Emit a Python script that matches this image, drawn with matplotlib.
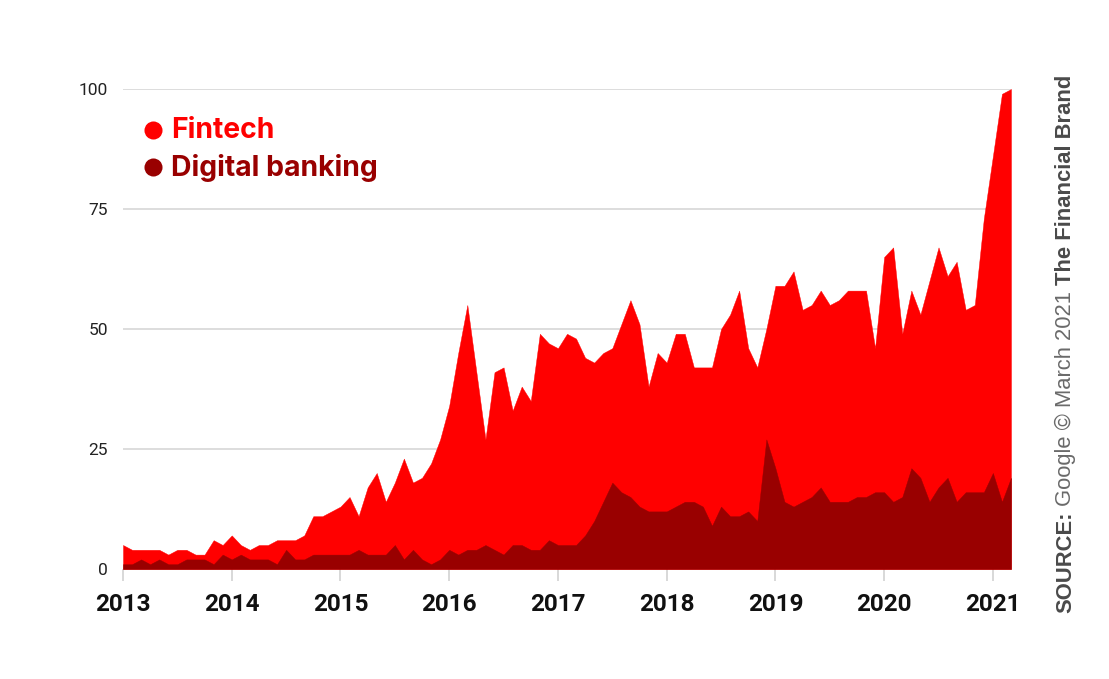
import matplotlib
matplotlib.use("Agg")
import matplotlib.pyplot as plt
from matplotlib.lines import Line2D
import numpy as np

# ---------------- data (Google Trends interest, monthly, Jan 2013 - Mar 2021) -------------
start_year = 2013
fintech = [
    5, 4, 4, 4, 4, 3, 4, 4, 3, 3, 6, 5,            # 2013
    7, 5, 4, 5, 5, 6, 6, 6, 7, 11, 11, 12,         # 2014
    13, 15, 11, 17, 20, 14, 18, 23, 18, 19, 22, 27, # 2015
    34, 45, 55, 41, 27, 41, 42, 33, 38, 35, 49, 47, # 2016
    46, 49, 48, 44, 43, 45, 46, 51, 56, 51, 38, 45, # 2017
    43, 49, 49, 42, 42, 42, 50, 53, 58, 46, 42, 50, # 2018
    59, 59, 62, 54, 55, 58, 55, 56, 58, 58, 58, 46, # 2019
    65, 67, 49, 58, 53, 60, 67, 61, 64, 54, 55, 73, # 2020
    86, 99, 100,                                    # 2021
]
digital_banking = [
    1, 1, 2, 1, 2, 1, 1, 2, 2, 2, 1, 3,             # 2013
    2, 3, 2, 2, 2, 1, 4, 2, 2, 3, 3, 3,             # 2014
    3, 3, 4, 3, 3, 3, 5, 2, 4, 2, 1, 2,             # 2015
    4, 3, 4, 4, 5, 4, 3, 5, 5, 4, 4, 6,             # 2016
    5, 5, 5, 7, 10, 14, 18, 16, 15, 13, 12, 12,     # 2017
    12, 13, 14, 14, 13, 9, 13, 11, 11, 12, 10, 27,  # 2018
    21, 14, 13, 14, 15, 17, 14, 14, 14, 15, 15, 16, # 2019
    16, 14, 15, 21, 19, 14, 17, 19, 14, 16, 16, 16, # 2020
    20, 14, 19,                                     # 2021
]
year_ticks = list(range(2013, 2022))
y_ticks = [0, 25, 50, 75, 100]
series_names = ["Fintech", "Digital banking"]
series_colors = ["#ff0000", "#990000"]

x = start_year + np.arange(len(fintech)) / 12.0

# ---------------- figure ---------------
W, H = 1109, 679
fig = plt.figure(figsize=(W / 100, H / 100), dpi=100)
fig.patch.set_facecolor("white")

def fx(px):
    return px / W

def fy(py):
    return 1 - py / H

ax_left, ax_right, ax_top, ax_bottom = 123, 1011, 89, 569
ax = fig.add_axes([fx(ax_left), fy(ax_bottom), (ax_right - ax_left) / W, (ax_bottom - ax_top) / H])

ax.fill_between(x, fintech, 0, color=series_colors[0], lw=0.3, edgecolor=series_colors[0], zorder=2)
ax.fill_between(x, digital_banking, 0, color=series_colors[1], lw=0.3, edgecolor=series_colors[1], zorder=3)

ax.set_xlim(x[0], x[-1])
ax.set_ylim(0, 100)
ax.set_axisbelow(True)
ax.set_yticks(y_ticks)
ax.set_yticklabels([str(v) for v in y_ticks], family="Roboto", fontsize=12.5, color="#222222")
ax.yaxis.grid(True, color="#dddddd", lw=1.4)
ax.tick_params(axis="y", length=0, pad=11)

ax.set_xticks(year_ticks)
ax.set_xticklabels([str(v) for v in year_ticks], family="Roboto", fontweight="bold",
                   fontsize=17.5, color="#111111")
ax.tick_params(axis="x", length=8.5, width=1.3, color="#d6d6d6", pad=8.5)
for s in ax.spines.values():
    s.set_visible(False)

renderer = fig.canvas.get_renderer()

# ---------------- legend ----------------
def fit_size(text, target_px, **kw):
    base = 20
    t = fig.text(0, 0, text, fontsize=base, **kw)
    w = t.get_window_extent(renderer).width
    t.remove()
    return base * target_px / w

leg_kw = dict(family="Inter", fontweight="bold")
leg_size = fit_size("Digital banking", 207, **leg_kw)
legend_rows = [(138, 130), (176, 167)]
for name, col, (base_y, cy) in zip(series_names, series_colors, legend_rows):
    fig.add_artist(Line2D([fx(152.5)], [fy(cy)], marker="o", markersize=13, color=col,
                          markeredgewidth=0, transform=fig.transFigure))
    fig.text(fx(171), fy(base_y), name, color=col, fontsize=leg_size, va="baseline", ha="left", **leg_kw)

# ---------------- vertical source note ----------------
parts = [("SOURCE:", "bold", "#4a4a4a"), ("Google © March 2021", "normal", "#6a6a6a"),
         ("The Financial Brand", "bold", "#4a4a4a")]

def place_source(size, draw=True):
    y = 613
    arts = []
    for txt, wt, col in parts:
        t = fig.text(fx(1071), fy(y), txt, rotation=90, rotation_mode="anchor", ha="left",
                     va="baseline", fontsize=size, family="Liberation Sans", fontweight=wt, color=col)
        bb = t.get_window_extent(renderer)
        arts.append(t)
        y = H - bb.y1 - 0.3 * size * 1.389 * 0.9
    top = H - arts[-1].get_window_extent(renderer).y1
    if not draw:
        for a in arts:
            a.remove()
    return top

top = place_source(13, draw=False)
size = 13 * (613 - 75) / (613 - top)
place_source(size, draw=True)

fig.savefig("out.png", dpi=100, facecolor="white")
